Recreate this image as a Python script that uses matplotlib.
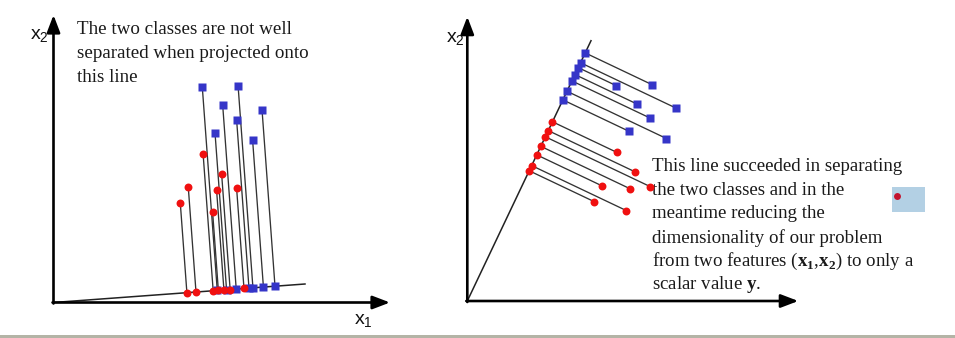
import numpy as np
import matplotlib.pyplot as plt
from matplotlib.patches import Rectangle

plt.rcParams['mathtext.fontset'] = 'custom'
plt.rcParams['mathtext.rm'] = 'Liberation Serif'
plt.rcParams['mathtext.bf'] = 'Liberation Serif:bold'
plt.rcParams['mathtext.sf'] = 'Liberation Sans'

# --- data: same two classes in both panels (units ~ pixels from the axes corner) ---
blue_x = [148.8, 184.6, 169.2, 183.1, 208.5, 161.5, 199.1]
blue_y = [215.4, 216.4, 197.2, 182.8, 193.0, 169.8, 162.5]
red_x = [149.6, 168.1, 183.1, 134.8, 163.1, 126.8, 159.1]
red_y = [148.6, 129.0, 114.3, 115.1, 112.1, 99.4, 90.4]

# far end of the projection line in each panel
line_left = (251.5, 18.5)    # almost flat, classes overlap
line_right = (123.7, 260.3)  # steep, classes separate

left_text = ['The two classes are not well',
             'separated when projected onto',
             'this line']
right_text = ['This line succeeded in separating',
              'the two classes and in the',
              'meantime reducing the',
              'dimensionality of our problem',
              r'from two features ($\mathbf{x}_\mathbf{1}$,$\mathbf{x}_\mathbf{2}$) to only a',
              r'scalar value $\mathbf{y}$.']

BLUE = '#3535c8'
RED = '#f01010'
W, H = 955, 338


def project(x, y, end):
    d = np.array(end) / np.hypot(*end)
    t = np.asarray(x) * d[0] + np.asarray(y) * d[1]
    return t * d[0], t * d[1]


def draw_panel(ax, end, ytip, xtip, x2pos, x1pos=None):
    ax.set_axis_off()
    # axes with arrow heads
    arrow = dict(arrowstyle='-|>,head_length=1.05,head_width=0.4', lw=1.9,
                 color='black', mutation_scale=10, shrinkA=0, shrinkB=0)
    ax.annotate('', xy=(0, ytip), xytext=(0, -1), arrowprops=arrow)
    ax.annotate('', xy=(xtip, 0), xytext=(-1, 0), arrowprops=arrow)
    ax.text(x2pos[0], x2pos[1], r'$\mathsf{x}_\mathsf{2}$', fontsize=14,
            ha='center', va='center', color='#111111')
    if x1pos is not None:
        ax.text(x1pos[0], x1pos[1], r'$\mathsf{x}_\mathsf{1}$', fontsize=14,
                ha='center', va='center', color='#111111')

    # projection line
    ax.plot([0, end[0]], [0, end[1]], color='#222222', lw=1.1, zorder=2)

    bpx, bpy = project(blue_x, blue_y, end)
    rpx, rpy = project(red_x, red_y, end)
    for xs, ys, px, py in ((blue_x, blue_y, bpx, bpy), (red_x, red_y, rpx, rpy)):
        for i in range(len(xs)):
            ax.plot([xs[i], px[i]], [ys[i], py[i]], color='#333333', lw=0.95, zorder=2)

    ax.plot(blue_x, blue_y, 's', color=BLUE, ms=5.7, mec='none', zorder=3)
    ax.plot(bpx, bpy, 's', color=BLUE, ms=5.7, mec='none', zorder=3)
    ax.plot(red_x, red_y, 'o', color=RED, ms=5.7, mec='none', zorder=4)
    ax.plot(rpx, rpy, 'o', color=RED, ms=5.7, mec='none', zorder=4)


fig = plt.figure(figsize=(W / 100, H / 100), dpi=100)

# background axes in pixel coordinates for the notes
bg = fig.add_axes([0, 0, 1, 1])
bg.set_xlim(0, W)
bg.set_ylim(H, 0)
bg.set_axis_off()
bg.add_patch(Rectangle((0, 335), W, 3, color='#b4b4a6', lw=0))
bg.add_patch(Rectangle((892.3, 187.3), 32.7, 24.4, color='#b3d0e4', lw=0))
bg.plot([896.8], [195.6], 'o', color='#c3142f', ms=5, mec='none')

for i, s in enumerate(left_text):
    bg.text(77, 30 + i * 23.6, s, fontsize=13.7, family='Liberation Serif',
            color='#1a1a1a', ha='left', va='center')
for i, s in enumerate(right_text):
    bg.text(652.3, 166.7 + i * 23.65, s, fontsize=13.6, family='Liberation Serif',
            color='#1a1a1a', ha='left', va='center')

# left panel: origin at pixel (53.5, 302.5)
axl = fig.add_axes([0, 0, 420 / W, 1])
axl.patch.set_visible(False)
axl.set_xlim(-53.5, 366.5)
axl.set_ylim(-35.5, 302.5)
draw_panel(axl, line_left, 287.5, 336.5, (-14.2, 267.0), (309.5, -18.5))

# right panel: origin at pixel (467.3, 301)
axr = fig.add_axes([420 / W, 0, 535 / W, 1])
axr.patch.set_visible(False)
axr.set_xlim(-47.3, 487.7)
axr.set_ylim(-37, 301)
draw_panel(axr, line_right, 284.3, 331.0, (-11.6, 262.0))

fig.savefig('out.png', dpi=100)
